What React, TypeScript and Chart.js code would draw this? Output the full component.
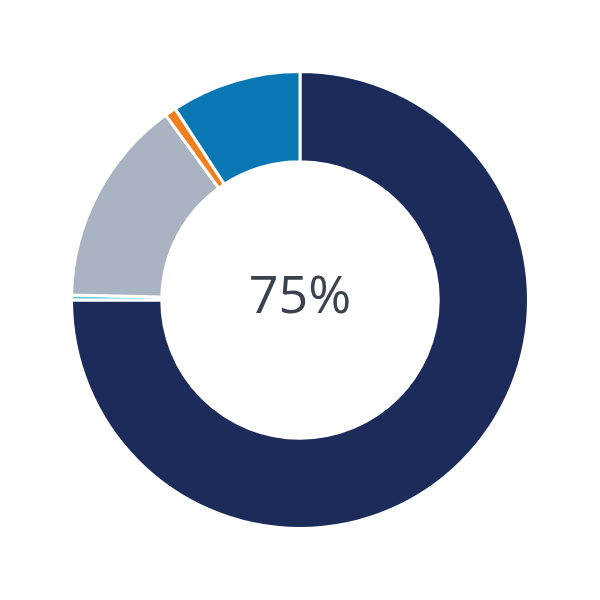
import React, { useEffect, useRef } from "react";
import { Chart, registerables } from "chart.js";

Chart.register(...registerables);

const labels = ["Navy", "Teal", "Gray", "Orange", "Blue"];
const values = [75, 0.35, 14.65, 0.8, 9.2];
const colors = ["#1c2b5a", "#5fcbd8", "#a9b3c1", "#f07f1e", "#0a77b5"];
const centerText = "75%";
const FONT = "400 52px 'Open Sans'";

const centerPlugin = {
  id: "centerText",
  afterDraw(chart: any) {
    const { ctx, chartArea } = chart;
    const cx = (chartArea.left + chartArea.right) / 2;
    const cy = (chartArea.top + chartArea.bottom) / 2;
    ctx.save();
    ctx.font = FONT;
    ctx.fillStyle = "#3b4350";
    ctx.textAlign = "center";
    ctx.textBaseline = "middle";
    ctx.fillText(centerText, cx, cy - 2);
    ctx.restore();
  },
};

export default function App() {
  const ref = useRef<HTMLCanvasElement>(null);
  useEffect(() => {
    let chart: Chart | null = null;
    let cancelled = false;
    const make = () => {
      if (cancelled || !ref.current) return;
      chart = new Chart(ref.current, {
        type: "doughnut",
        data: {
          labels,
          datasets: [
            {
              data: values,
              backgroundColor: colors,
              borderColor: "#ffffff",
              borderWidth: 3,
            },
          ],
        },
        options: {
          animation: false,
          responsive: false,
          cutout: "60.5%",
          layout: { padding: 70 },
          plugins: { legend: { display: false }, tooltip: { enabled: false } },
        },
        plugins: [centerPlugin],
      });
    };
    (document as any).fonts.load(FONT, centerText).then(make, make);
    return () => {
      cancelled = true;
      if (chart) chart.destroy();
    };
  }, []);
  return (
    <div style={{ position: "fixed", left: 0, top: 0, width: 600, height: 600, background: "#fff" }}>
      <canvas ref={ref} width={600} height={600} style={{ width: 600, height: 600 }} />
    </div>
  );
}
